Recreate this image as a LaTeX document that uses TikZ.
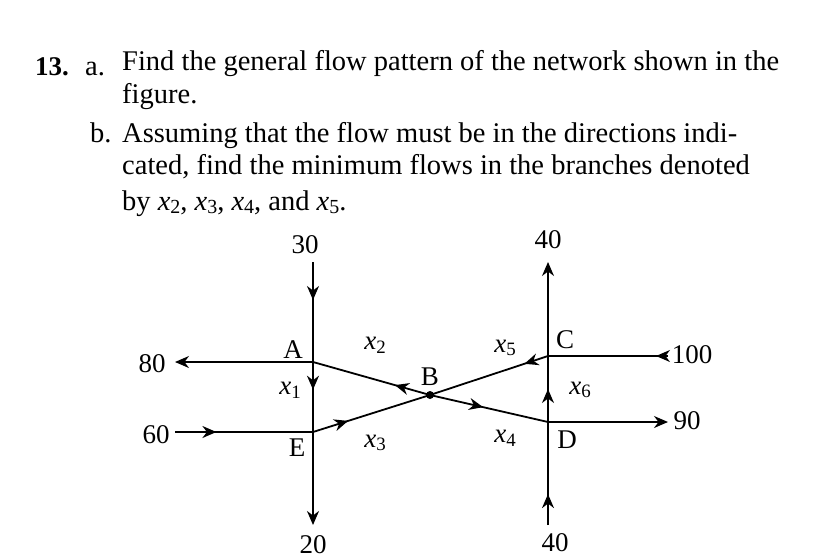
\documentclass[tikz,border=0pt]{standalone}
\usepackage{fontspec}
\setmainfont{Liberation Serif}
\usetikzlibrary{decorations.markings,arrows.meta}
\newcommand{\xv}[1]{\textit{x}\raisebox{-0.3ex}{\fontsize{0.7em}{1em}\selectfont #1}}
\begin{document}
\begin{tikzpicture}[x=1pt,y=-1pt,
  txt/.style={anchor=base west,inner sep=0pt,font=\fontsize{28.5}{32}\selectfont},
  lab/.style={font=\fontsize{27}{30}\selectfont},
  ln/.style={line width=1.8pt},
  tip/.style={-{Stealth[length=14pt,width=12pt]}},
  mid/.style={postaction={decorate},decoration={markings,mark=at position #1 with {\arrow{Stealth[length=14pt,width=12pt]}}}}]
\useasboundingbox (0,0) rectangle (828,560);
\fill[white] (0,0) rectangle (828,560);
\node[txt,font=\bfseries\fontsize{27}{30}\selectfont] (n13) at (35,75) {13.};
\node[txt] (na) at (85,75) {a.};
\node[txt] (t1) at (122,70) {Find the general flow pattern of the network shown in the};
\node[txt] (t2) at (122,103) {figure.};
\node[txt] (nb) at (90,142) {b.};
\node[txt] (t3) at (122,142) {Assuming that the flow must be in the directions indi-};
\node[txt] (t4) at (122,174) {cated, find the minimum flows in the branches denoted};
\node[txt] (t5) at (122,210) {by \xv{2}, \xv{3}, \xv{4}, and \xv{5}.};

\coordinate (A) at (313,362);
\coordinate (E) at (313,432);
\coordinate (C) at (548,356);
\coordinate (D) at (548,422);
\coordinate (B) at (430,395);
\coordinate (Atop) at (313,262);
\coordinate (Abot) at (313,525);
\coordinate (Ctop) at (548,262);
\coordinate (Dbot) at (548,525);
\coordinate (Wl) at (175,362);
\coordinate (El) at (175,432);
\coordinate (Cr) at (668,356);
\coordinate (Dr) at (668,422);

\draw[ln,mid=0.38] (Atop) -- (A);
\draw[ln,tip,mid=0.17] (A) -- (Abot);
\draw[ln,tip] (A) -- (Wl);
\draw[ln,mid=0.3] (El) -- (E);
\draw[ln,mid=0.3] (B) -- (A);
\draw[ln,mid=0.45] (B) -- (D);
\draw[ln,mid=0.3] (E) -- (B);
\draw[ln,mid=0.2] (C) -- (B);
\draw[ln,tip] (C) -- (Ctop);
\draw[ln,mid=0.5] (D) -- (C);
\draw[ln,mid=0.3] (Dbot) -- (D);
\draw[ln,mid=0.1] (Cr) -- (C);
\draw[ln,tip] (D) -- (Dr);
\fill (B) circle (4pt);

\node[lab] (l30) at (305,245) {30};
\node[lab] (l20) at (313,545) {20};
\node[lab] (l40t) at (548,240) {40};
\node[lab] (l40b) at (555,543) {40};
\node[lab] (l80) at (152,364) {80};
\node[lab] (l60) at (156,435) {60};
\node[lab] (l100) at (692,355) {100};
\node[lab] (l90) at (687,421) {90};
\node[lab] (lA) at (293,350) {A};
\node[lab] (lE) at (297,448) {E};
\node[lab] (lB) at (430,377) {B};
\node[lab] (lC) at (565,340) {C};
\node[lab] (lD) at (567,440) {D};
\node[lab] (x1) at (290,390) {\xv{1}};
\node[lab] (x2) at (375,345) {\xv{2}};
\node[lab] (x3) at (375,443) {\xv{3}};
\node[lab] (x4) at (505,438) {\xv{4}};
\node[lab] (x5) at (505,348) {\xv{5}};
\node[lab] (x6) at (580,390) {\xv{6}};
\end{tikzpicture}
\end{document}
